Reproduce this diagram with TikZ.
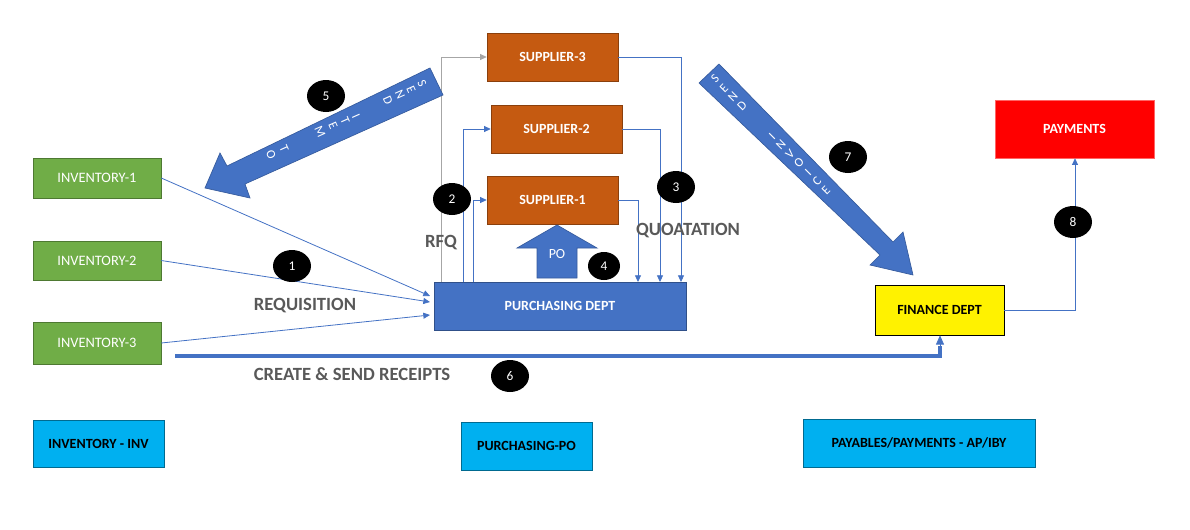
\documentclass[tikz,border=0pt]{standalone}
\usepackage{fontspec}
\setmainfont{Carlito}
\usetikzlibrary{arrows.meta,shapes.geometric}
\definecolor{sup}{HTML}{C55A11}
\definecolor{pblue}{HTML}{4472C4}
\definecolor{inv}{HTML}{70AD47}
\definecolor{cyanb}{HTML}{00B0F0}
\definecolor{lbl}{HTML}{595959}
\begin{document}
\begin{tikzpicture}[x=0.75pt,y=-0.75pt,
 box/.style={draw=#1!70!black,fill=#1,text=white,font=\bfseries\fontsize{10.5}{11}\selectfont,inner sep=0pt},
 ebox/.style={draw=#1!70!black,fill=#1,text=white,font=\fontsize{10.8}{11}\selectfont,inner sep=0pt},
 num/.style={ellipse,fill=black,text=white,minimum width=28.5pt,minimum height=24pt,inner sep=0pt,font=\fontsize{10}{11}\selectfont},
 conn/.style={draw=pblue,-{Triangle[width=4.5pt,length=5pt]},line width=0.6pt},
 big/.style={draw=pblue!80!black,line width=0.5pt,fill=pblue},
 lab/.style={text=lbl,font=\bfseries\fontsize{14}{15}\selectfont},
 let/.style={text=white,font=\fontsize{9.5}{10}\selectfont,inner sep=0pt}]
\useasboundingbox (0,0) rectangle (1190,529);
% boxes
\node[box=sup,minimum width=98.25pt,minimum height=36pt] (s3) at (552.5,57) {SUPPLIER-3};
\node[box=sup,minimum width=98.25pt,minimum height=36pt] (s2) at (556.5,129) {SUPPLIER-2};
\node[box=sup,minimum width=98.25pt,minimum height=36pt] (s1) at (552.5,200) {SUPPLIER-1};
\node[box=pblue,minimum width=189pt,minimum height=36pt] (pd) at (560,306) {PURCHASING DEPT};
\node[ebox=inv,minimum width=96pt,minimum height=30pt] (i1) at (97,178) {INVENTORY-1};
\node[ebox=inv,minimum width=96pt,minimum height=29pt] (i2) at (97,260.5) {INVENTORY-2};
\node[ebox=inv,minimum width=96pt,minimum height=31.5pt] (i3) at (97,343) {INVENTORY-3};
\node[draw=black,fill=yellow,font=\bfseries\fontsize{10.5}{11}\selectfont,minimum width=96.75pt,minimum height=37.5pt,inner sep=0pt] (fd) at (939.5,310) {FINANCE DEPT};
\node[box=red,draw=red!60!white,minimum width=119pt,minimum height=43.5pt] (pay) at (1074.5,129) {PAYMENTS};
\node[box=cyanb,text=black,draw=cyanb!60!black,minimum width=98pt,minimum height=35pt] (b1) at (98.5,443.5) {INVENTORY - INV};
\node[box=cyanb,text=black,draw=cyanb!60!black,minimum width=98pt,minimum height=36pt] (b2) at (526.5,446) {PURCHASING-PO};
\node[box=cyanb,text=black,draw=cyanb!60!black,minimum width=174pt,minimum height=36pt] (b3) at (919,443) {PAYABLES/PAYMENTS - AP/IBY};
% requisition lines
\draw[conn] (i1.east) -- (430,296);
\draw[conn] (i2.east) -- (430,302);
\draw[conn] (i3.east) -- (430,315);
% RFQ
\draw[draw=gray!70,-{Triangle[width=4.5pt,length=5pt]},line width=0.6pt] (441,282) |- (s3.west);
\draw[conn] (463,282) |- (s2.west);
\draw[conn] (473,282) |- (s1.west);
% quotation
\draw[conn] (s1.east) -| (638,282);
\draw[conn] (s2.east) -| (660,282);
\draw[conn] (s3.east) -| (681,282);
% PO arrow
\draw[big] (537,278) -- (537,248) -- (517,248) -- (557,225) -- (597,248) -- (577,248) -- (577,278) -- cycle;
\node[text=white,font=\fontsize{10.5}{11}\selectfont] (po) at (557,254) {PO};
% big arrow 5
\draw[big] (430,68) -- (443,95) -- (245,184) -- (250,198) -- (205,188) -- (220,153) -- (227,166) -- cycle;
\foreach \c/\x/\y in {S/422/84,E/411/90,N/400/95,D/388/100,I/356/116,T/345/121,E/333/126,M/320/132,T/284/149,O/271/155}
  \node[let,rotate=-66] at (\x,\y) {\c};
% big arrow 7
\draw[big] (699,83) -- (719,64) -- (893,242) -- (903,232) -- (913,275) -- (870,265) -- (880,255) -- cycle;
\foreach \c/\x/\y in {S/715/79,E/724/88,N/733/97,D/742/106,I/772/136,N/781/145,V/790/154,O/799/163,I/808/172,C/817/181,E/826/190}
  \node[let,rotate=45] at (\x,\y) {\c};
% receipts
\coordinate (r0) at (175,356);
\coordinate (r1) at (940,356);
\coordinate (r2) at (940,346);
\draw[draw=pblue,line width=3pt] (r0) -- (r1) -- (r2);
\draw[draw=pblue,line width=0.6pt,-{Triangle[width=6pt,length=7pt]}] (r2) -- (fd.south -| r2);
% finance to payments
\coordinate (p1) at (1075,310);
\draw[conn] (fd.east) -- (p1) -- (pay.south -| p1);
% numbers
\node[num] (n1) at (292,266) {1};
\node[num] (n2) at (452,199) {2};
\node[num] (n3) at (676,187) {3};
\node[num,minimum width=24pt,minimum height=21pt] (n4) at (604,266) {4};
\node[num] (n5) at (326,96) {5};
\node[num] (n6) at (510,376) {6};
\node[num] (n7) at (848,157) {7};
\node[num] (n8) at (1073,222) {8};
% labels
\node[lab] (l1) at (305,306) {REQUISITION};
\node[lab] (l2) at (441,243) {RFQ};
\node[lab] (l3) at (688,231) {QUOATATION};
\node[lab] (l4) at (352,374) {CREATE \& SEND RECEIPTS};
\end{tikzpicture}
\end{document}
